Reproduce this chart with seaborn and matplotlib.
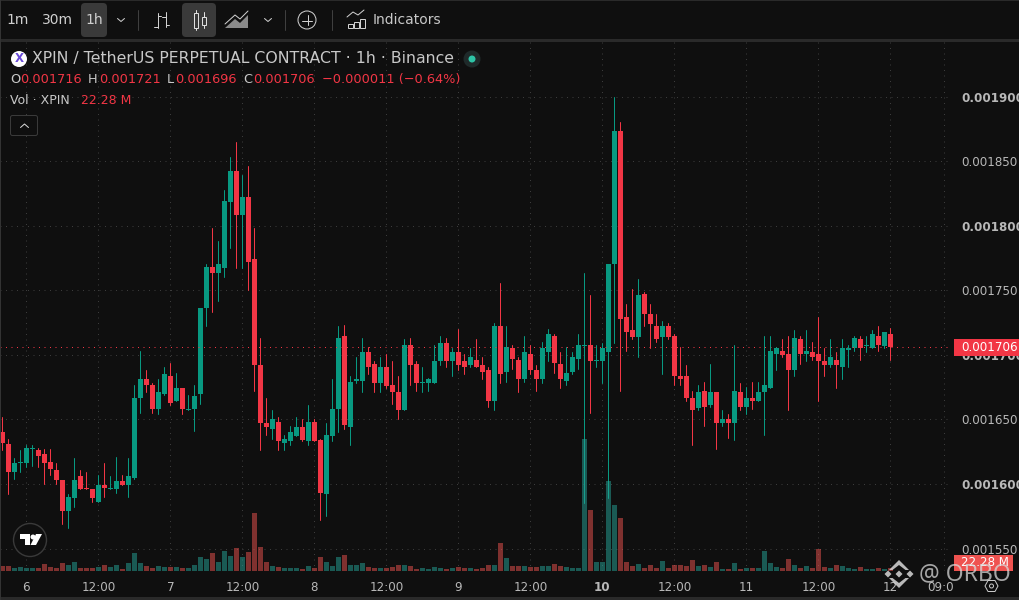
import pandas as pd
import seaborn as sns
import matplotlib.pyplot as plt
from matplotlib.patches import Circle, FancyBboxPatch, Polygon, Rectangle
from matplotlib.lines import Line2D
from matplotlib.transforms import Affine2D, Bbox

# hourly candles, prices in millionths of a USDT
opens = [1640,1631,1609,1616,1616,1627,1626,1623,1617,1611,
         1603,1579,1589,1606,1597,1596,1586,1599,1596,1596,
         1602,1599,1605,1667,1681,1677,1658,1670,1684,1664,
         1674,1657,1658,1670,1736,1768,1763,1767,1818,1842,
         1808,1822,1774,1692,1647,1643,1648,1632,1633,1637,
         1644,1633,1648,1634,1592,1637,1658,1715,1644,1680,
         1680,1702,1693,1678,1691,1677,1671,1657,1708,1693,
         1678,1678,1678,1695,1709,1695,1702,1695,1692,1696,
         1692,1688,1664,1722,1687,1705,1696,1681,1701,1688,
         1681,1702,1715,1693,1680,1687,1697,1707,1708,1695,
         1695,1702,1770,1873,1729,1719,1714,1747,1732,1722,
         1714,1722,1715,1684,1684,1667,1659,1672,1661,1671,
         1647,1650,1647,1671,1660,1667,1664,1671,1674,1701,
         1703,1701,1688,1712,1701,1702,1701,1695,1692,1696,
         1691,1704,1705,1712,1707,1705,1715,1707,1716]
highs = [1652,1635,1620,1626,1630,1630,1628,1627,1627,1616,
         1603,1592,1620,1611,1609,1596,1607,1616,1606,1621,
         1607,1620,1677,1703,1688,1678,1681,1691,1694,1686,
         1674,1669,1677,1736,1770,1798,1788,1828,1853,1865,
         1839,1846,1798,1713,1667,1657,1652,1638,1645,1652,
         1650,1661,1650,1635,1647,1681,1722,1723,1684,1698,
         1713,1706,1695,1698,1701,1695,1684,1712,1713,1695,
         1691,1682,1708,1715,1713,1705,1720,1701,1705,1712,
         1698,1691,1725,1756,1722,1708,1698,1715,1708,1692,
         1710,1720,1716,1702,1706,1702,1716,1763,1746,1708,
         1709,1770,1900,1880,1739,1751,1759,1749,1739,1732,
         1726,1725,1716,1706,1692,1672,1677,1679,1693,1671,
         1657,1654,1708,1678,1675,1679,1679,1715,1715,1706,
         1712,1715,1719,1715,1719,1710,1729,1705,1712,1702,
         1712,1708,1715,1715,1715,1719,1722,1718,1721]
lows = [1626,1592,1604,1609,1613,1614,1613,1600,1607,1600,
        1569,1566,1582,1596,1596,1586,1586,1590,1596,1593,
        1599,1590,1604,1655,1671,1655,1654,1669,1661,1664,
        1654,1657,1641,1662,1722,1733,1742,1760,1783,1767,
        1767,1750,1672,1626,1638,1635,1626,1626,1630,1637,
        1633,1630,1633,1572,1575,1633,1640,1643,1630,1678,
        1671,1685,1671,1671,1674,1662,1650,1657,1677,1672,
        1671,1672,1678,1692,1691,1684,1688,1685,1691,1691,
        1681,1660,1657,1678,1679,1689,1671,1679,1685,1672,
        1678,1695,1686,1674,1677,1685,1689,1585,1655,1691,
        1678,1589,1709,1672,1703,1712,1698,1722,1705,1710,
        1685,1712,1677,1677,1664,1630,1657,1645,1660,1627,
        1645,1636,1634,1657,1654,1658,1664,1638,1674,1688,
        1698,1657,1684,1693,1695,1696,1664,1684,1691,1674,
        1681,1691,1703,1696,1702,1705,1703,1705,1696]
closes = [1632,1609,1616,1617,1628,1628,1622,1616,1612,1603,
          1579,1590,1603,1596,1596,1589,1599,1597,1596,1602,
          1599,1606,1667,1681,1677,1658,1671,1685,1663,1674,
          1658,1658,1668,1736,1768,1763,1770,1819,1842,1808,
          1822,1772,1692,1647,1644,1650,1633,1635,1640,1644,
          1634,1648,1633,1593,1638,1658,1713,1646,1679,1681,
          1702,1691,1678,1691,1676,1671,1657,1708,1692,1678,
          1679,1681,1695,1709,1695,1702,1692,1691,1698,1691,
          1687,1664,1722,1685,1706,1697,1681,1702,1688,1681,
          1705,1716,1694,1681,1686,1698,1708,1708,1695,1696,
          1705,1770,1873,1728,1718,1714,1746,1732,1724,1712,
          1722,1714,1684,1681,1667,1657,1671,1660,1671,1647,
          1650,1647,1672,1660,1667,1664,1671,1677,1703,1705,
          1700,1688,1713,1701,1703,1698,1695,1692,1698,1692,
          1705,1705,1713,1705,1708,1716,1708,1718,1706]
# volume in millions of XPIN
volumes = [37,37,22,30,22,22,22,52,30,22,59,45,67,22,22,22,30,45,30,45,15,59,134,59,37,
           22,37,30,30,30,22,22,45,104,89,134,67,148,111,171,104,141,431,178,67,37,30,22,22,22,
           15,37,22,104,67,37,104,119,45,45,59,30,22,22,22,30,45,45,37,15,22,15,30,22,15,
           22,30,22,22,15,22,45,45,208,97,37,37,37,30,30,37,37,52,37,30,22,22,981,453,67,
           67,668,490,394,67,37,52,22,45,22,74,22,45,45,37,82,37,45,30,67,15,15,59,15,22,
           22,22,148,59,30,22,89,45,22,37,22,163,30,22,45,37,22,15,30,15,15,22,15,22.28]

time_ticks = [4, 16, 28, 40, 52, 64, 76, 88, 100, 112, 124, 136, 148, 157]
time_labels = ["6", "12:00", "7", "12:00", "8", "12:00", "9", "12:00", "10", "12:00", "11", "12:00", "12", "09:00"]
price_ticks = [1550, 1600, 1650, 1700, 1750, 1800, 1850, 1900]

GREEN = "#089981"
RED = "#F23645"
VOL_GREEN = "#26a69a"
VOL_RED = "#ef5350"
BG = "#0f0f0f"
GRID = "#3c3c3c"
TXT = "#b8b8b8"
DOTS = (0, (1, 4.5))

df = pd.DataFrame({"open": opens, "high": highs, "low": lows, "close": closes, "vol": volumes})
df[["open", "high", "low", "close"]] = df[["open", "high", "low", "close"]] / 1e6
df["i"] = range(len(df))
df["dir"] = ["up" if c >= o else "down" for o, c in zip(df["open"], df["close"])]
df["bottom"] = df[["open", "close"]].min(axis=1)
df["body"] = (df["close"] - df["open"]).abs().clip(lower=1e-6)

sns.set_theme(style="dark", rc={"figure.facecolor": BG, "axes.facecolor": BG, "font.family": "DejaVu Sans"})
fig = plt.figure(figsize=(10.2, 6), dpi=100)
ax = fig.add_axes([0, 29 / 600, 950 / 1020, 529 / 600])

# wicks, one line per candle
wicks = df.melt(id_vars=["i", "dir"], value_vars=["high", "low"], value_name="price")
sns.lineplot(data=wicks, x="i", y="price", hue="dir", units="i", estimator=None,
             palette={"up": GREEN, "down": RED}, lw=0.72, legend=False, ax=ax)

# candle bodies
for d, col in [("up", GREEN), ("down", RED)]:
    part = df[df["dir"] == d]
    sns.barplot(x=part["i"], y=part["body"], bottom=part["bottom"], native_scale=True, orient="x",
                color=col, saturation=1, width=5 / 6, errorbar=None, linewidth=0, ax=ax)

# 2.4 px offset so that wicks land on the middle pixel of the 5 px bodies
ax.set_xlim(-2.4 / 6, 947.6 / 6)
ax.set_ylim(0.0015327, 0.0019422)
ax.set_xlabel("")
ax.set_ylabel("")
ax.set_xticks(time_ticks)
ax.set_xticklabels(time_labels)
ax.set_yticks([p / 1e6 for p in price_ticks])
ax.set_yticklabels([f"{p / 1e6:.6f}" for p in price_ticks])
ax.grid(True, color=GRID, lw=0.72, linestyle=DOTS)
ax.set_axisbelow(True)
sns.despine(ax=ax, left=True, bottom=True)

# last price line
ax.axhline(closes[-1] / 1e6, color=RED, lw=0.72, linestyle=DOTS, zorder=1)

# volume pane shares the space at the bottom
vx = ax.twinx()
for d, col in [("up", VOL_GREEN), ("down", VOL_RED)]:
    part = df[df["dir"] == d]
    sns.barplot(x=part["i"], y=part["vol"], native_scale=True, orient="x", color=col,
                saturation=1, width=5 / 6, errorbar=None, linewidth=0, alpha=0.5, ax=vx)
vx.set_xlim(ax.get_xlim())
vx.set_ylim(0, 3929)
vx.set_yticks([])
vx.set_ylabel("")
vx.set_xlabel("")
vx.grid(False)
sns.despine(ax=vx, left=True, bottom=True, right=True)
vx.patch.set_alpha(0)

# twinx moves the price ticks back to the left, so this comes after it
ax.yaxis.tick_right()
ax.tick_params(axis="both", length=0, labelsize=8.6, labelcolor=TXT)
ax.tick_params(axis="y", pad=8)
ax.tick_params(axis="x", pad=7)
for t, p in zip(ax.get_yticklabels(), price_ticks):
    if p % 100 == 0:
        t.set_fontweight("bold")
for t, s in zip(ax.get_xticklabels(), time_labels):
    if s == "10":
        t.set_fontweight("bold")
    if s == "09:00":
        t.set_clip_on(True)
        t.set_clip_box(Bbox([[0, 0], [953, 600]]))

# everything below is in picture pixels, origin top left
tr = Affine2D().scale(1, -1).translate(0, 600)


def add_line(xs, ys, col="#d0d0d0", lw=0.72, **kw):
    fig.add_artist(Line2D(xs, ys, color=col, lw=lw, transform=tr, **kw))


def add_text(x, y, s, col=TXT, size=9.2, **kw):
    kw.setdefault("va", "center")
    fig.text(x, y, s, color=col, fontsize=size, transform=tr, **kw)


def add_patch(p):
    p.set_transform(tr)
    fig.add_artist(p)


# toolbar
add_patch(Rectangle((0, 0), 1020, 39, fc=BG, ec="none"))
add_patch(Rectangle((0, 39), 1020, 3, fc="#2a2a2a", ec="none"))
add_patch(Rectangle((0, 0), 1020, 1, fc="#2a2a2a", ec="none"))
add_patch(Rectangle((0, 597), 1020, 3, fc="#2a2a2a", ec="none"))
add_patch(Rectangle((0, 0), 1, 600, fc="#333333", ec="none"))
add_patch(FancyBboxPatch((81, 3), 26, 34, boxstyle="round,pad=0,rounding_size=4", fc="#3a3a3a", ec="none"))
add_patch(FancyBboxPatch((182, 3), 34, 34, boxstyle="round,pad=0,rounding_size=4", fc="#3a3a3a", ec="none"))
add_text(18, 20, "1m", col="#d0d0d0", size=10, ha="center")
add_text(57, 20, "30m", col="#d0d0d0", size=10, ha="center")
add_text(94, 20, "1h", col="#d0d0d0", size=10, ha="center")
for cx in [121, 268]:
    add_line([cx - 3.5, cx, cx + 3.5], [18.5, 21.5, 18.5])
for sx in [137.5, 284.5, 331.5]:
    add_line([sx, sx], [10, 30], col="#3f3f3f")
# bars icon
add_line([157.5, 157.5], [13, 28]); add_line([154, 157.5], [26.5, 26.5]); add_line([157.5, 161], [15.5, 15.5])
add_line([165.5, 165.5], [12, 27]); add_line([162, 165.5], [16.5, 16.5]); add_line([165.5, 169], [24.5, 24.5])
# candles icon
add_patch(Rectangle((193.5, 12.5), 4, 15, fc="none", ec="#e0e0e0", lw=0.72))
add_line([195.5, 195.5], [10, 12.5], col="#e0e0e0"); add_line([195.5, 195.5], [27.5, 30], col="#e0e0e0")
add_patch(Rectangle((201.5, 16.5), 4, 8, fc="none", ec="#e0e0e0", lw=0.72))
add_line([203.5, 203.5], [12, 16.5], col="#e0e0e0"); add_line([203.5, 203.5], [24.5, 28], col="#e0e0e0")
# area icon
add_patch(Polygon([(225, 28), (235, 19), (240, 23), (248, 15), (248, 28)], fc="#8a8a8a", ec="none"))
add_line([225, 235, 240, 248], [24, 15, 19, 11])
# plus
add_patch(Circle((307, 20), 9, fc="none", ec="#d0d0d0", lw=0.72))
add_line([302, 312], [20.5, 20.5]); add_line([307.5, 307.5], [15, 25])
# indicators icon
for bx, by in [(347.5, 23.5), (353.5, 21.5), (359.5, 18.5)]:
    add_patch(Rectangle((bx, by), 5, 28 - by, fc="none", ec="#d0d0d0", lw=0.72))
add_line([347, 353, 358, 364], [17, 12, 15, 10])
add_text(373, 20, "Indicators", col="#c8c8c8", size=10)

# header
add_patch(Circle((19, 59), 8, fc="white", ec="none"))
add_text(19, 59, "X", col="#6a4bd8", size=8.5, ha="center", fontweight="bold")
add_text(32, 59, "XPIN / TetherUS PERPETUAL CONTRACT · 1h · Binance", col="#c8c8c8", size=11.3)
add_patch(Circle((472, 59), 8.5, fc="#1f2a2a", ec="none"))
add_patch(Circle((472, 59), 3.5, fc="#2ec4a6", ec="none"))
legend_y = 79.5
for x, s, c in [(10, "O", "#c8c8c8"), (20.5, "0.001716", RED), (88, "H", "#c8c8c8"), (99, "0.001721", RED),
                (167, "L", "#c8c8c8"), (175.5, "0.001696", RED), (243, "C", "#c8c8c8"), (253.5, "0.001706", RED),
                (322, "−0.000011 (−0.64%)", RED)]:
    add_text(x, legend_y, s, col=c, size=9.3)
add_text(10, 100.5, "Vol · XPIN", col="#c8c8c8", size=9)
add_text(81, 100.5, "22.28 M", col=RED, size=9)
add_patch(FancyBboxPatch((10.5, 115.5), 27, 20, boxstyle="round,pad=0,rounding_size=2", fc=BG, ec="#3a3a3a", lw=0.72))
add_line([20.5, 24.5, 28.5], [127.5, 124, 127.5], col="#d8d8d8")

# tradingview badge
add_patch(Circle((30, 540), 16.5, fc=BG, ec="#3a3a3a", lw=1))
add_patch(Polygon([(20, 534), (30, 534), (30, 545), (25, 545), (25, 539), (20, 539)], fc="white", ec="none"))
add_patch(Circle((33, 537), 2.5, fc="white", ec="none"))
add_patch(Polygon([(36, 534), (42, 534), (36, 545), (30.5, 545)], fc="white", ec="none"))

# price tags
add_patch(Rectangle((954, 339), 66, 17, fc=RED, ec="none"))
add_text(961, 347.5, "0.001706", col="white", size=8.6)
add_patch(Rectangle((954, 555), 59, 16, fc=VOL_RED, ec="none"))
add_text(961, 563, "22.28 M", col="white", size=8.6)

# binance mark and watermark
WM = "#d8d8d8"
for cx, cy, r in [(899, 574, 3.5), (888, 574, 3.5), (910, 574, 3.5)]:
    add_patch(Polygon([(cx - r, cy), (cx, cy - r), (cx + r, cy), (cx, cy + r)], fc=WM, ec="none", alpha=0.85))
add_patch(Polygon([(899, 560), (909, 570), (905.5, 570), (899, 565), (892.5, 570), (889, 570)], fc=WM, ec="none", alpha=0.85))
add_patch(Polygon([(899, 588), (909, 578), (905.5, 578), (899, 583), (892.5, 578), (889, 578)], fc=WM, ec="none", alpha=0.85))
fig.text(919, 574, "@ ORBO", color=WM, alpha=0.75, fontsize=16.5, family="Noto Sans", va="center", transform=tr)
# settings hexagon
add_patch(Polygon([(985, 586), (988, 580.5), (995, 580.5), (998, 586), (995, 591.5), (988, 591.5)], fc="none", ec="#c8c8c8", lw=0.72))
add_patch(Circle((991.5, 586), 2, fc="none", ec="#c8c8c8", lw=0.72))

fig.savefig("out.png", dpi=100, facecolor=BG)
